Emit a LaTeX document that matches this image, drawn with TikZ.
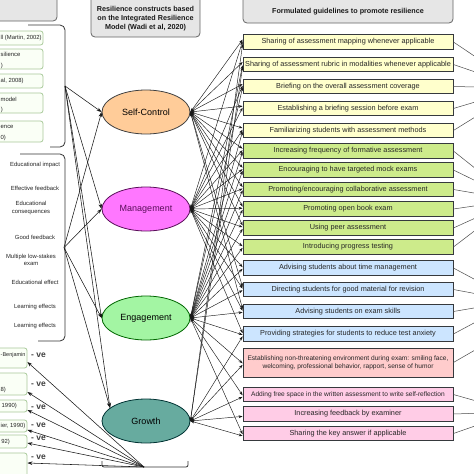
\documentclass[tikz,border=0pt]{standalone}
\usepackage{fontspec}
\setmainfont{Liberation Sans}
\usetikzlibrary{arrows.meta,shapes.geometric}
\definecolor{ylw}{HTML}{FFFFCC}
\definecolor{grn}{HTML}{CDEB8B}
\definecolor{blu}{HTML}{CCE5FF}
\definecolor{slm}{HTML}{FFCCCC}
\definecolor{pnk}{HTML}{FFCCE6}
\definecolor{bord}{HTML}{36393D}
\definecolor{ttl}{HTML}{E6E6E6}
\definecolor{lbox}{HTML}{FAFFF6}
\definecolor{lbord}{HTML}{A9C99A}
\definecolor{scf}{HTML}{FFCC99}
\definecolor{mgf}{HTML}{FF77FF}
\definecolor{mgt}{HTML}{5A0F5A}
\definecolor{egf}{HTML}{A3F5A3}
\definecolor{grf}{HTML}{67AB9F}
\begin{document}
\begin{tikzpicture}[x=1pt,y=-1pt,
 guide/.style={draw=bord, line width=0.8pt, minimum width=210pt, minimum height=14.5pt, inner sep=1pt, font=\fontsize{7.3}{8.5}\selectfont, text=black!85, align=center},
 ttlbox/.style={draw=black!60, fill=ttl, line width=0.8pt, rounded corners=4pt, inner sep=0pt},
 ttltxt/.style={font=\bfseries\fontsize{7.2}{9}\selectfont, align=center, text=black!90, inner sep=0pt},
 lbx/.style={draw=lbord, fill=lbox, line width=0.8pt, rounded corners=2.5pt, inner sep=0pt},
 ltxt/.style={font=\fontsize{5.9}{7.5}\selectfont, text=black!85, inner sep=0pt, anchor=east},
 ltxw/.style={font=\fontsize{5.9}{7.5}\selectfont, text=black!85, inner sep=0pt, anchor=west},
 mtxt/.style={font=\fontsize{5.9}{7.3}\selectfont, text=black!85, align=center, inner sep=0pt},
 cons/.style={ellipse, minimum width=88pt, minimum height=44pt, inner sep=0pt, line width=0.8pt, font=\fontsize{9}{10}\selectfont},
 neg/.style={font=\bfseries\fontsize{8.5}{9}\selectfont, text=black!75, anchor=west, inner sep=0pt},
 brk/.style={draw=black!80, line width=0.8pt, rounded corners=5pt},
 conn/.style={draw=black!90, line width=0.45pt, arrows={Stealth[length=4pt,width=2.8pt]-Stealth[length=4pt,width=2.8pt]}},
 larr/.style={draw=black!90, line width=0.55pt, arrows={-Stealth[length=5pt,width=3.5pt]}},
 outl/.style={draw=black!70, line width=0.5pt}
]
\useasboundingbox (0,0) rectangle (474,474);
\clip (0,0) rectangle (474,474);
\fill[white] (0,0) rectangle (474,474);

% title boxes
\node[ttlbox, minimum width=62pt, minimum height=30pt] (t0) at (26,6) {};
\node[ttlbox, minimum width=109pt, minimum height=42pt] (t1) at (145.5,16) {};
\node[ttltxt] (t1txt) at (145.5,19) {Resilience constructs based\\on the Integrated Resilience\\Model (Wadi et al, 2020)};
\node[ttlbox, minimum width=210pt, minimum height=31pt] (t2) at (348,7.5) {};
\node[ttltxt] (t2txt) at (348,12) {Formulated guidelines to promote resilience};

% left top group
\node[lbx, minimum width=53pt, minimum height=14pt] (l1) at (16.5,38) {};
\node[lbx, minimum width=53pt, minimum height=20pt] (l2) at (16.5,59) {};
\node[lbx, minimum width=53pt, minimum height=14pt] (l3) at (16.5,81) {};
\node[lbx, minimum width=53pt, minimum height=20pt] (l4) at (16.5,103) {};
\node[lbx, minimum width=53pt, minimum height=21pt] (l5) at (16.5,131.5) {};
\node[ltxw] (l1a) at (0.5,38) {ll (Martin, 2002)};
\node[ltxw] (l2a) at (0.5,54.5) {silience};
\node[ltxt] (l2b) at (3,66) {)};
\node[ltxw] (l3a) at (0.5,81) {al, 2008)};
\node[ltxw] (l4a) at (0.5,99.5) {model};
\node[ltxt] (l4b) at (3,109.5) {)};
\node[ltxw] (l5a) at (0.5,127) {ence};
\node[ltxw] (l5b) at (0.5,137.5) {0)};
\draw[brk] (28,25) -- (65,25) -- (65,147) -- (50,147);

% left middle group
\node[mtxt] (m1) at (35,165) {Educational impact};
\node[mtxt] (m2) at (35,188) {Effective feedback};
\node[mtxt] (m3) at (31,208) {Educational\\consequences};
\node[mtxt] (m4) at (35,237) {Good feedback};
\node[mtxt] (m5) at (31,260) {Multiple low-stakes\\exam};
\node[mtxt] (m6) at (35,282) {Educational effect};
\node[mtxt] (m7) at (35,307) {Learning effects};
\node[mtxt] (m8) at (35,326) {Learning effects};
\draw[brk] (20,154) -- (65,154) -- (65,341) -- (38,341);

% negative boxes
\node[lbx, minimum width=37pt, minimum height=20pt] (na) at (8.5,358) {};
\node[lbx, minimum width=37pt, minimum height=22pt] (nb) at (8.5,384) {};
\node[lbx, minimum width=37pt, minimum height=12pt] (nc) at (8.5,406) {};
\node[lbx, minimum width=37pt, minimum height=12pt] (nd) at (8.5,426) {};
\node[lbx, minimum width=37pt, minimum height=13pt] (ne) at (8.5,441.5) {};
\node[lbx, minimum width=37pt, minimum height=32pt] (nf) at (8.5,469) {};
\node[ltxw, font=\fontsize{5.5}{7}\selectfont] (naa) at (0.5,355.5) {-Benjamin};
\node[ltxw] (nba) at (0.5,390) {8)};
\node[ltxt] (nca) at (17,406) {1990)};
\node[ltxw] (nda) at (0.5,426) {ier, 1990)};
\node[ltxt] (nea) at (10,442) {92)};
\node[neg] (v1) at (31,355) {- ve};
\node[neg] (v2) at (31,384) {- ve};
\node[neg] (v3) at (31,407) {- ve};
\node[neg] (v4) at (31,425) {- ve};
\node[neg] (v5) at (31,438) {- ve};
\node[neg] (v6) at (31,457) {- ve};

% constructs
\node[cons, draw=black!75, fill=scf] (sc) at (146,112) {Self-Control};
\node[cons, draw=mgt, fill=mgf, text=mgt] (mg) at (146,209) {Management};
\node[cons, draw=black!60!green, fill=egf] (eg) at (146,318) {Engagement};
\node[cons, draw=black!60!teal, fill=grf] (gr) at (146,421) {Growth};
\draw[brk, rounded corners=2pt] (102,461) -- (102,467) -- (188,467) -- (188,461);

% guidelines
\node[guide, fill=ylw] (g1) at (348,42) {Sharing of assessment mapping whenever applicable};
\node[guide, fill=ylw] (g2) at (348,64.5) {Sharing of assessment rubric in modalities whenever applicable};
\node[guide, fill=ylw] (g3) at (348,86.5) {Briefing on the overall assessment coverage};
\node[guide, fill=ylw] (g4) at (348,108.5) {Establishing a briefing session before exam};
\node[guide, fill=ylw] (g5) at (348,130.5) {Familiarizing students with assessment methods};
\node[guide, fill=grn] (g6) at (348,151) {Increasing frequency of formative assessment};
\node[guide, fill=grn] (g7) at (348,170) {Encouraging to have targeted mock exams};
\node[guide, fill=grn] (g8) at (348,189.5) {Promoting/encouraging collaborative assessment};
\node[guide, fill=grn] (g9) at (348,209) {Promoting open book exam};
\node[guide, fill=grn] (g10) at (348,228) {Using peer assessment};
\node[guide, fill=grn] (g11) at (348,247) {Introducing progress testing};
\node[guide, fill=blu] (g12) at (348,268) {Advising students about time management};
\node[guide, fill=blu] (g13) at (348,289.5) {Directing students for good material for revision};
\node[guide, fill=blu] (g14) at (348,311.5) {Advising students on exam skills};
\node[guide, fill=blu] (g15) at (348,334) {Providing strategies for students to reduce test anxiety};
\node[guide, fill=slm, minimum height=29pt, font=\fontsize{6.6}{8.2}\selectfont] (g16) at (348,362.5) {Establishing non-threatening environment during exam: smiling face,\\welcoming, professional behavior, rapport, sense of humor};
\node[guide, fill=pnk, font=\fontsize{6.6}{8}\selectfont] (g17) at (348,394.5) {Adding free space in the written assessment to write self-reflection};
\node[guide, fill=pnk] (g18) at (348,414) {Increasing feedback by examiner};
\node[guide, fill=pnk] (g19) at (348,433.5) {Sharing the key answer if applicable};

% off-picture joins on the right
\coordinate (jy) at (522,88);
\coordinate (jg) at (515,200);
\coordinate (jb) at (515,301);
\coordinate (js) at (515,327);
\coordinate (jp) at (515,412);
\foreach \i in {1,2,3,4,5} \draw[outl] (g\i.east) -- (jy);
\foreach \i in {6,7,8,9,10,11} \draw[outl] (g\i.east) -- (jg);
\foreach \i in {12,13,14,15} \draw[outl] (g\i.east) -- (jb);
\draw[outl] (g16.east) -- (js);
\foreach \i in {17,18,19} \draw[outl] (g\i.east) -- (jp);

% left connectors
\coordinate (T) at (65,86);
\coordinate (M) at (64,247.5);
\coordinate (B) at (144,467);
\draw[larr] (T) -- (sc.west);
\draw[larr] (T) -- (mg.west);
\draw[larr] (T) -- (eg.west);
\draw[larr] (T) -- (gr.160);
\draw[larr] (M) -- (sc.west);
\draw[larr] (M) -- (mg.west);
\draw[larr] (M) -- (eg.west);
\draw[larr] (M) -- (gr.160);
\draw[larr] (B) -- ([yshift=-4pt]na.east);
\draw[larr] (B) -- ([yshift=-8pt]nb.east);
\draw[larr] (B) -- ([yshift=-4pt]nc.east);
\draw[larr] (B) -- ([yshift=-4pt]nd.east);
\draw[larr] (B) -- ([yshift=-1.5pt]ne.east);
\draw[larr] (B) -- ([yshift=6pt]nf.east);

% construct to guideline connectors
\foreach \i in {1,2,3,4,5,6,7,8,9,10,13,14} \draw[conn] (sc.east) -- ([yshift=2.4pt]g\i.west);
\foreach \i in {1,3,4,5,6,7,8,9,10,11,12,13,14,15} \draw[conn] (mg.east) -- ([yshift=0.8pt]g\i.west);
\foreach \i in {2,3,5,6,7,8,9,10,11,12,13,14,15,16,17,19} \draw[conn] (eg.east) -- ([yshift=-0.8pt]g\i.west);
\foreach \i in {1,2,15,16,17,18,19} \draw[conn] (gr.east) -- ([yshift=-2.4pt]g\i.west);
\end{tikzpicture}
\end{document}
